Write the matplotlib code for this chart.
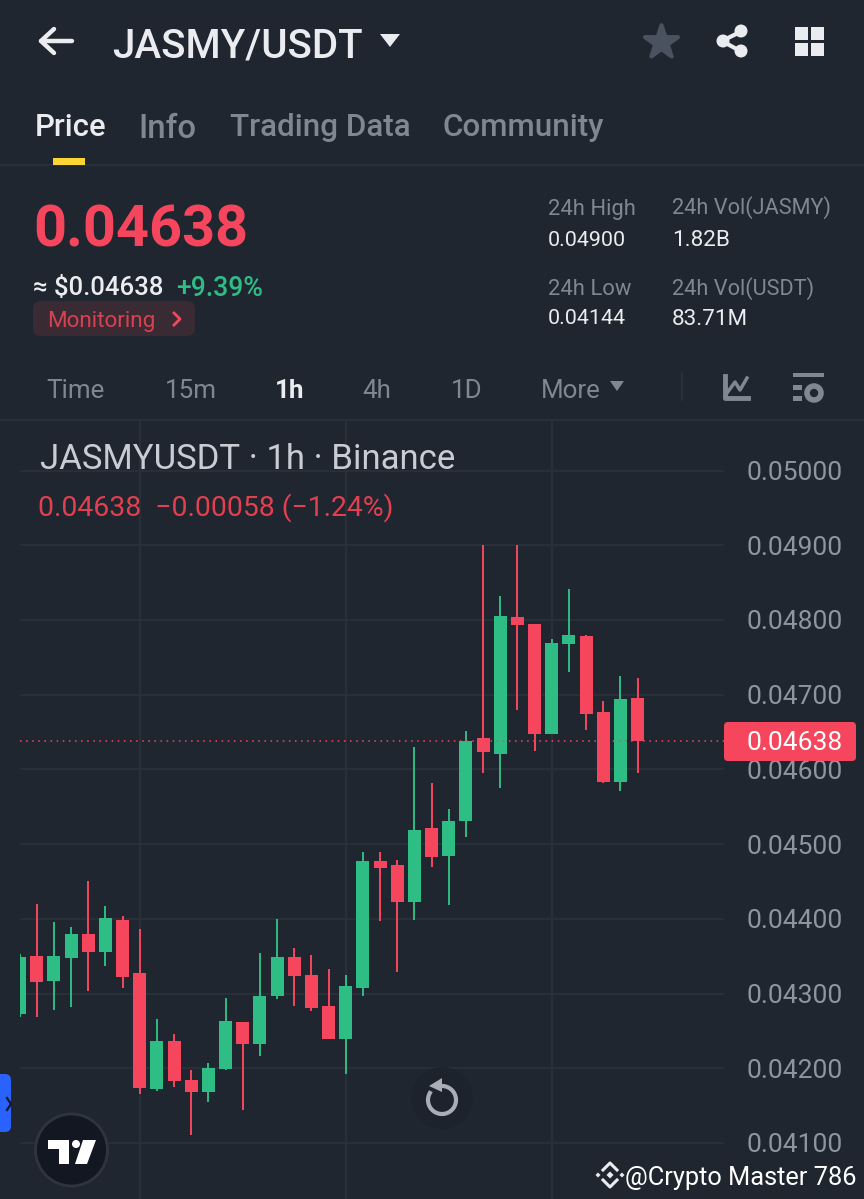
import numpy as np
import matplotlib
matplotlib.use('Agg')
import matplotlib.pyplot as plt
from matplotlib.patches import Circle, FancyBboxPatch, Polygon, Rectangle

# candle values, 1h JASMYUSDT, units of 0.00001
opens = [4273, 4350, 4317, 4347, 4379, 4355, 4399, 4328, 4172, 4236, 4184, 4168, 4199, 4262, 4233, 4297, 4349, 4325, 4283,
         4239, 4308, 4477, 4472, 4423, 4521, 4484, 4531, 4642, 4621, 4804, 4794, 4648, 4768, 4779, 4677, 4583, 4695]
closes = [4349, 4315, 4350, 4379, 4355, 4401, 4322, 4174, 4237, 4183, 4168, 4200, 4263, 4233, 4297, 4349, 4324, 4281, 4239,
          4310, 4478, 4468, 4423, 4519, 4483, 4531, 4638, 4623, 4805, 4793, 4648, 4769, 4780, 4674, 4583, 4694, 4638]
highs = [4353, 4420, 4396, 4389, 4450, 4417, 4404, 4386, 4266, 4246, 4198, 4207, 4294, 4262, 4354, 4400, 4361, 4352, 4333,
         4325, 4490, 4489, 4479, 4630, 4582, 4547, 4652, 4900, 4832, 4900, 4795, 4775, 4842, 4780, 4692, 4725, 4723]
lows = [4269, 4268, 4278, 4282, 4304, 4337, 4308, 4166, 4169, 4175, 4111, 4155, 4198, 4144, 4216, 4292, 4283, 4277, 4239,
        4192, 4296, 4397, 4329, 4398, 4470, 4418, 4510, 4595, 4575, 4680, 4624, 4647, 4730, 4653, 4582, 4571, 4595]
price_ticks = [0.05, 0.049, 0.048, 0.047, 0.046, 0.045, 0.044, 0.043, 0.042, 0.041]
vgrid_candles = [7, 19, 31]
last_price = 0.04638

BG = '#1f2630'
GRID = '#2b313b'
GREEN = '#2ebd85'
RED = '#f6465d'
GREY = '#7f8792'
LIGHT = '#eaecef'
FONT = 'Roboto'

fig = plt.figure(figsize=(8.64, 11.99), dpi=100, facecolor=BG)

# chart axes, x 20-724 px and y 420-1199 px
ax = fig.add_axes([20 / 864, 0, 704 / 864, 779 / 1199], facecolor=BG)
ax.set_xlim((20 - 19.5) / 17.17, (724 - 19.5) / 17.17)
ax.set_ylim(0.049 - (1199 - 545.3) / 74700, 0.049 + (545.3 - 420) / 74700)
for s in ax.spines.values():
    s.set_visible(False)

ax.set_yticks(price_ticks)
ax.set_yticklabels(['%.5f' % p for p in price_ticks], fontsize=19, color='#8f959f', family=FONT)
ax.yaxis.tick_right()
ax.tick_params(axis='y', length=0, pad=16)
ax.set_xticks(vgrid_candles)
ax.tick_params(axis='x', length=0, labelbottom=False)
ax.grid(True, color=GRID, lw=1.2)
ax.set_axisbelow(True)

xs = np.arange(len(opens))
o = np.array(opens) / 1e5
c = np.array(closes) / 1e5
h = np.array(highs) / 1e5
l = np.array(lows) / 1e5
colors = [GREEN if cl >= op else RED for op, cl in zip(o, c)]
ax.vlines(xs, l, h, colors=colors, lw=1.4, zorder=3)
ax.bar(xs, np.abs(c - o), bottom=np.minimum(o, c), width=13 / 17.17, color=colors, lw=0, zorder=4)
ax.axhline(last_price, color=RED, lw=1.1, ls=(0, (1, 3)), zorder=5)

# everything else is app chrome, drawn in pixel coordinates
ui = fig.add_axes([0, 0, 1, 1], facecolor='none')
ui.set_xlim(0, 864)
ui.set_ylim(1199, 0)
ui.axis('off')


def txt(x, y, s, px, color, weight='normal', ha='left', family=FONT):
    ui.text(x, y, s, fontsize=px * 0.72, color=color, fontweight=weight, ha=ha, va='center_baseline', family=family)


# top bar
ui.plot([41, 72], [41, 41], color=LIGHT, lw=3.2, solid_capstyle='round')
ui.plot([54, 41, 54], [29, 41, 53], color=LIGHT, lw=3.2, solid_capstyle='round', solid_joinstyle='round')
txt(112, 43, 'JASMY/USDT', 40.3, LIGHT, 'medium')
ui.add_patch(Polygon([(380, 34), (400, 34), (390, 47)], color=LIGHT, lw=0))
ui.scatter([661], [42], s=620, marker='*', color='#4a5260', lw=3)
ui.plot([742, 722, 742], [31, 41, 52], color=LIGHT, lw=3)
for cx, cy in [(741, 31), (723, 41), (741, 51)]:
    ui.add_patch(Circle((cx, cy), 6.5, color=LIGHT, lw=0))
for x0, y0, w, hh in [(795, 27, 13, 13), (811, 27, 13, 13), (795, 43, 13, 13), (811, 43, 13, 13)]:
    ui.add_patch(Rectangle((x0, y0), w, hh, color=LIGHT, lw=0))

# tabs
txt(35, 125, 'Price', 31, LIGHT, 'medium')
txt(138, 125, 'Info', 33, GREY, 'medium')
txt(230, 125, 'Trading Data', 31.4, GREY, 'medium')
txt(443, 125, 'Community', 31.4, GREY, 'medium')
ui.add_patch(Rectangle((53, 158), 32, 7, color='#fcd535', lw=0))
ui.plot([0, 864], [165, 165], color=GRID, lw=1.2, zorder=0)

# price block
txt(33, 225, '0.04638', 57.6, RED, 'bold')
txt(33, 285, '≈ $0.04638', 25.8, LIGHT, 'medium')
txt(176, 285, '+9.39%', 26.5, GREEN, 'medium')
ui.add_patch(FancyBboxPatch((39, 307), 150, 23, boxstyle='round,pad=6,rounding_size=8', color='#3a2a34', lw=0))
txt(47, 319, 'Monitoring', 22.5, '#d8414f')
ui.plot([174, 180, 174], [313, 319, 325], color='#f6465d', lw=2)
txt(548, 207, '24h High', 22, GREY)
txt(548, 238, '0.04900', 21.5, LIGHT)
txt(672, 205, '24h Vol(JASMY)', 21.8, GREY)
txt(672, 238, '1.82B', 22.5, LIGHT)
txt(548, 287, '24h Low', 22, GREY)
txt(548, 317, '0.04144', 21.5, LIGHT)
txt(672, 286, '24h Vol(USDT)', 21.8, GREY)
txt(672, 317, '83.71M', 22.5, LIGHT)

# interval toolbar
txt(46, 389, 'Time', 26, GREY)
txt(165, 389, '15m', 26, GREY)
txt(275, 389, '1h', 26, LIGHT, 'bold')
txt(362, 389, '4h', 26, GREY)
txt(451, 389, '1D', 26, GREY)
txt(541, 389, 'More', 26, GREY)
ui.add_patch(Polygon([(610, 381), (624, 381), (617, 391)], color=GREY, lw=0))
ui.plot([682, 682], [373, 400], color=GRID, lw=1.3)
ui.plot([725, 725, 748], [376, 398, 398], color=GREY, lw=3.5)
ui.plot([727, 735, 740, 747], [393, 382, 390, 378], color=GREY, lw=2.5)
ui.add_patch(Rectangle((793, 373), 31, 4, color=GREY, lw=0))
ui.add_patch(Rectangle((793, 385), 9, 5, color=GREY, lw=0))
ui.add_patch(Rectangle((793, 396), 9, 5, color=GREY, lw=0))
ui.add_patch(Circle((814, 393), 7, fc='none', ec=GREY, lw=4))
ui.plot([0, 864], [420, 420], color=GRID, lw=1.2, zorder=0)

# chart legend
txt(40, 456, 'JASMYUSDT · 1h · Binance', 34.8, '#c9cdd3')
txt(38, 504, '0.04638  −0.00058 (−1.24%)', 28.4, '#e2404f')

# last price tag
ui.add_patch(FancyBboxPatch((727, 725), 126, 33, boxstyle='round,pad=3,rounding_size=4', color=RED, lw=0, zorder=6))
ui.text(747, 741, '%.5f' % last_price, fontsize=19, color='white', va='center_baseline', family=FONT, zorder=7)

# bottom widgets
ui.add_patch(FancyBboxPatch((-10, 1078), 17, 50, boxstyle='round,pad=4,rounding_size=6', color='#2962ff', lw=0))
ui.plot([7, 11, 7], [1098, 1104, 1110], color='#131722', lw=1.6)
ui.add_patch(Circle((71.5, 1150), 36, fc='#131722', ec='#2f3540', lw=2))
ui.add_patch(Polygon([(48, 1140), (69, 1140), (69, 1164), (59, 1164), (59, 1149), (48, 1149)], color='white', lw=0))
ui.add_patch(Circle((76, 1144), 4, color='white', lw=0))
ui.add_patch(Polygon([(83, 1140), (96, 1140), (87, 1164), (75, 1164)], color='white', lw=0))
ui.add_patch(Circle((442, 1098), 31, color='#1c232c', lw=0))
ang = np.radians(np.linspace(-90, 210, 60))
ui.plot(442 + 14 * np.cos(ang), 1100 + 14 * np.sin(ang), color='#a9adb5', lw=3)
ui.add_patch(Polygon([(442, 1078), (442, 1092), (429, 1086)], color='#a9adb5', lw=0))

# watermark
for cx, cy, r in [(598, 1175, 2.5), (622, 1175, 2.5), (610, 1175, 3.5)]:
    ui.add_patch(Polygon([(cx - r, cy), (cx, cy - r), (cx + r, cy), (cx, cy + r)], color=LIGHT, lw=0))
ui.plot([603, 610, 617], [1170, 1163, 1170], color=LIGHT, lw=2.2)
ui.plot([603, 610, 617], [1180, 1187, 1180], color=LIGHT, lw=2.2)
txt(625, 1176, '@Crypto Master 786', 25.4, 'white')

fig.savefig('out.png', dpi=100, facecolor=BG)
